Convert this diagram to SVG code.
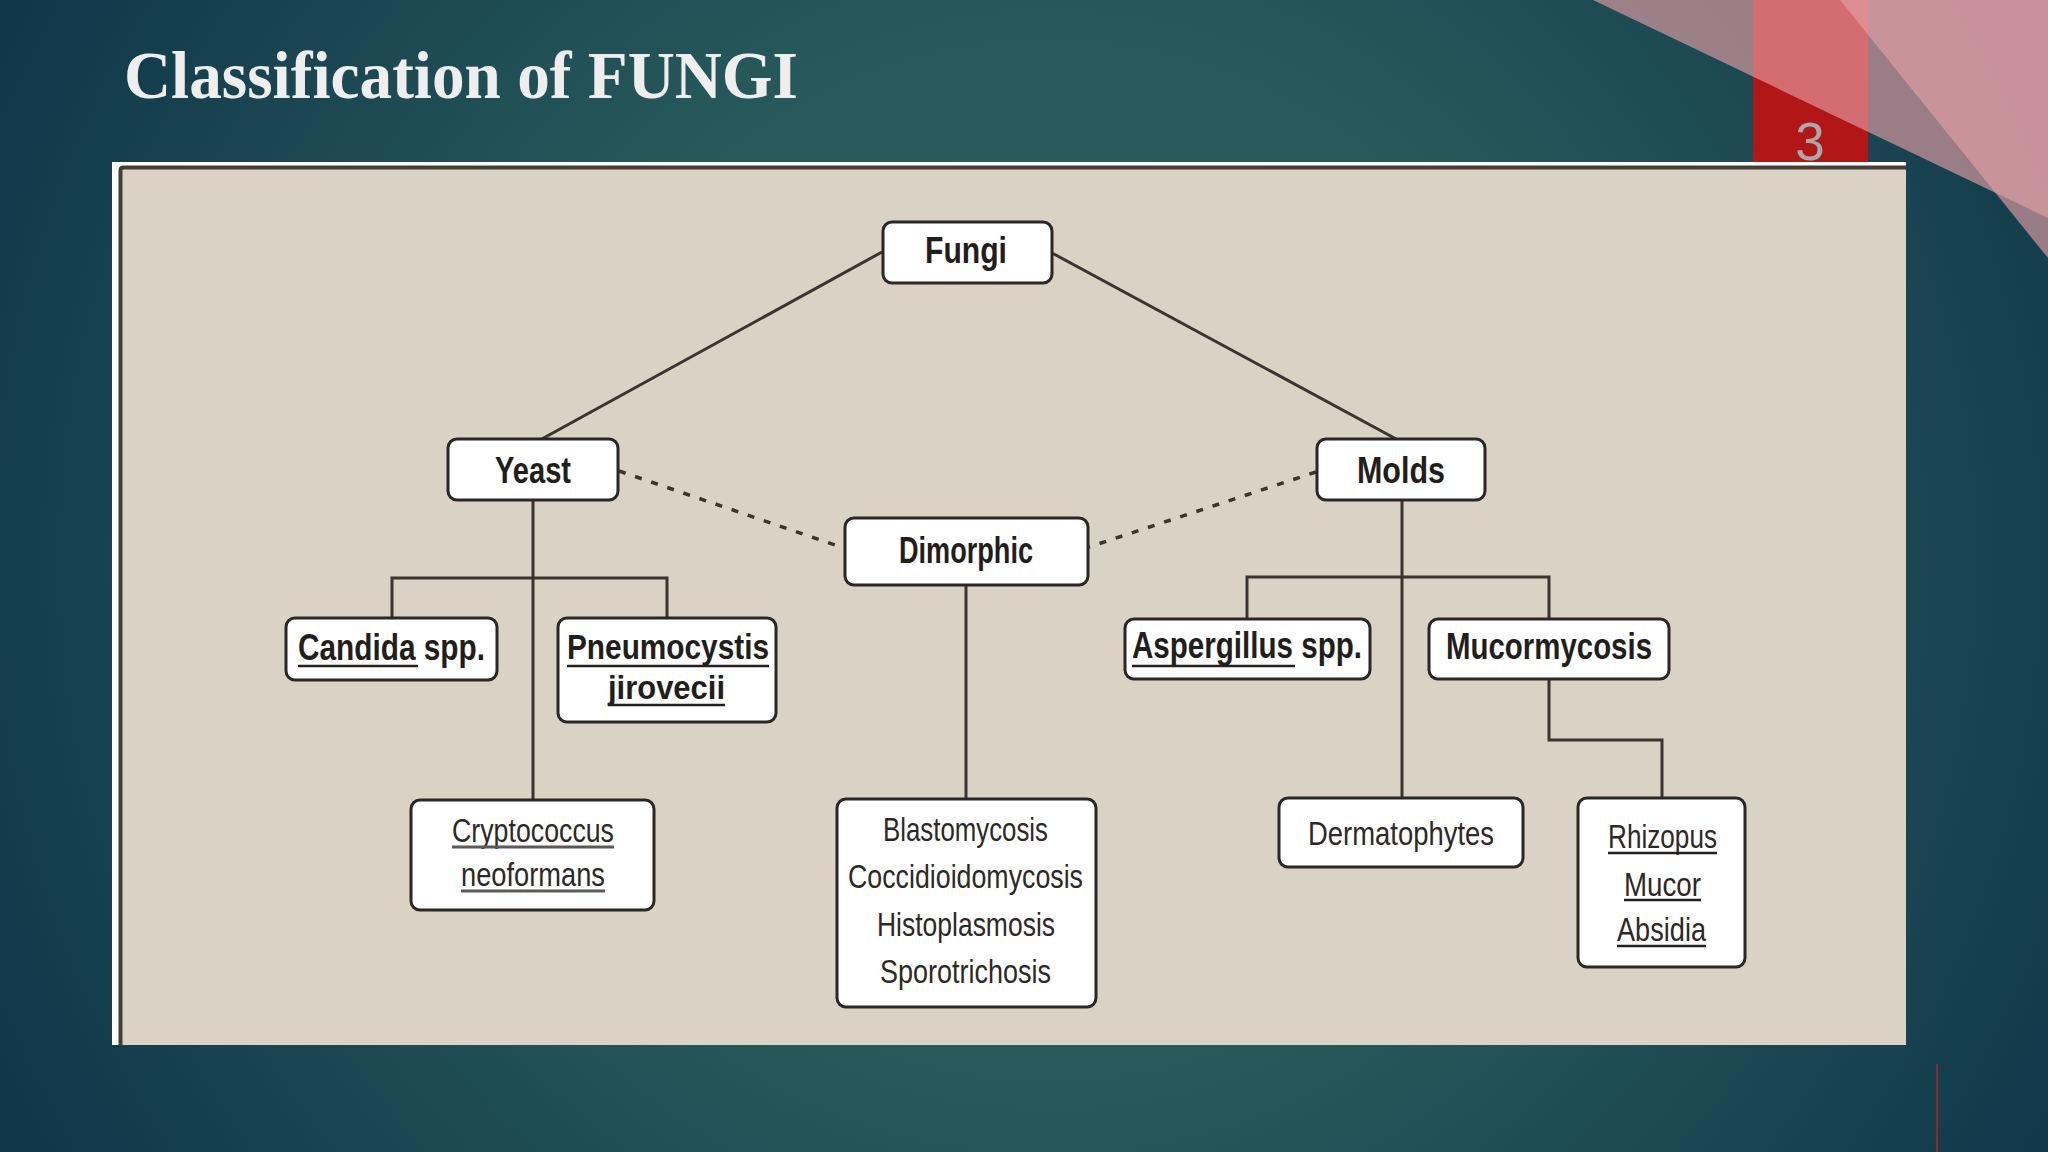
<svg xmlns="http://www.w3.org/2000/svg" width="2048" height="1152" viewBox="0 0 2048 1152">
<defs>
<radialGradient id="bg" gradientUnits="userSpaceOnUse" cx="1050" cy="560" r="1180">
<stop offset="0" stop-color="#2f6360"/>
<stop offset="0.45" stop-color="#27595a"/>
<stop offset="1" stop-color="#10364a"/>
</radialGradient>
<style>
.box{fill:#ffffff;stroke:#2b2724;stroke-width:3}
.b{font-family:"Liberation Sans Narrow","Liberation Sans",Arial,sans-serif;font-weight:bold;font-size:36px;fill:#211e1b}
.r{font-family:"Liberation Sans Narrow","Liberation Sans",Arial,sans-serif;font-size:34px;fill:#2c2927}
.ul{stroke:#24201d;stroke-width:2.5}
.ulg{stroke:#5c5a58;stroke-width:3}
.ln{fill:none;stroke:#3b3530;stroke-width:3}
.dl{fill:none;stroke:#3b3530;stroke-width:3.5;stroke-dasharray:7 10}
</style>
</defs>
<rect x="0" y="0" width="2048" height="1152" fill="url(#bg)"/>
<rect x="1753" y="0" width="115" height="165" fill="#b31616"/>
<polygon points="1593,0 2048,0 2048,218" fill="#e4a0a6" fill-opacity="0.64"/>
<polygon points="1840,0 2048,0 2048,258" fill="#e4a0a6" fill-opacity="0.64"/>
<text x="1810" y="160" text-anchor="middle" font-family="Liberation Sans, Arial, sans-serif" font-size="53" fill="#a9a9ab">3</text>
<line x1="1937" y1="1064" x2="1937" y2="1152" stroke="#8e2633" stroke-width="2"/>
<text x="124" y="98" font-family="Liberation Serif, Times New Roman, serif" font-weight="bold" font-size="68" fill="#eeeeee" textLength="674" lengthAdjust="spacingAndGlyphs">Classification of FUNGI</text>
<g id="figure">
<rect x="112" y="162" width="1794" height="883" fill="#ffffff"/>
<rect x="120" y="166" width="1786" height="879" fill="#dbd2c6"/>
<path d="M120.5,1045 V170 Q120.5,167.5 124,167.5 H1906" fill="none" stroke="#463e36" stroke-width="4"/>
</g>
<g id="connectors">
<line class="ln" x1="882" y1="252" x2="540" y2="440"/>
<line class="ln" x1="1052" y1="253" x2="1398" y2="440"/>
<line class="dl" x1="619" y1="471" x2="844" y2="548"/>
<line class="dl" x1="1316" y1="472" x2="1089" y2="547"/>
<line class="ln" x1="533" y1="500" x2="533" y2="800"/>
<polyline class="ln" points="392,618 392,578 667,578 667,618"/>
<line class="ln" x1="966" y1="585" x2="966" y2="799"/>
<line class="ln" x1="1402" y1="500" x2="1402" y2="798"/>
<polyline class="ln" points="1247,619 1247,577 1549,577 1549,619"/>
<polyline class="ln" points="1549,679 1549,740 1662,740 1662,798"/>
</g>
<g id="fungi">
<rect class="box" x="883" y="222" width="169" height="61" rx="9"/>
<text class="b" x="925" y="263" textLength="82" lengthAdjust="spacingAndGlyphs">Fungi</text>
</g>
<g id="yeast">
<rect class="box" x="448" y="439" width="170" height="61" rx="9"/>
<text class="b" x="495" y="483" textLength="76" lengthAdjust="spacingAndGlyphs">Yeast</text>
</g>
<g id="molds">
<rect class="box" x="1317" y="439" width="168" height="61" rx="9"/>
<text class="b" x="1357" y="483" textLength="88" lengthAdjust="spacingAndGlyphs">Molds</text>
</g>
<g id="dimorphic">
<rect class="box" x="845" y="518" width="243" height="67" rx="9"/>
<text class="b" x="899" y="563" textLength="134" lengthAdjust="spacingAndGlyphs">Dimorphic</text>
</g>
<g id="candida">
<rect class="box" x="286" y="618" width="211" height="62" rx="9"/>
<text class="b" x="298" y="660" textLength="187" lengthAdjust="spacingAndGlyphs">Candida spp.</text>
<line class="ul" x1="298" y1="666" x2="418" y2="666"/>
</g>
<g id="pneumocystis">
<rect class="box" x="558" y="618" width="218" height="104" rx="9"/>
<text class="b" x="567" y="659" font-size="35" textLength="202" lengthAdjust="spacingAndGlyphs" style="font-size:35px">Pneumocystis</text>
<line class="ul" x1="567" y1="666" x2="769" y2="666"/>
<text class="b" x="608" y="699" textLength="117" lengthAdjust="spacingAndGlyphs" style="font-size:34px">jirovecii</text>
<line class="ul" x1="608" y1="705" x2="725" y2="705"/>
</g>
<g id="aspergillus">
<rect class="box" x="1125" y="619" width="245" height="60" rx="9"/>
<text class="b" x="1132" y="658" textLength="230" lengthAdjust="spacingAndGlyphs">Aspergillus spp.</text>
<line class="ul" x1="1132" y1="666" x2="1295" y2="666"/>
</g>
<g id="mucormycosis">
<rect class="box" x="1429" y="619" width="240" height="60" rx="9"/>
<text class="b" x="1446" y="659" textLength="206" lengthAdjust="spacingAndGlyphs">Mucormycosis</text>
</g>
<g id="cryptococcus">
<rect class="box" x="411" y="800" width="243" height="110" rx="9"/>
<text class="r" x="452" y="842" textLength="162" lengthAdjust="spacingAndGlyphs">Cryptococcus</text>
<line class="ulg" x1="452" y1="847" x2="614" y2="847"/>
<text class="r" x="461" y="886" textLength="144" lengthAdjust="spacingAndGlyphs">neoformans</text>
<line class="ulg" x1="461" y1="891" x2="605" y2="891"/>
</g>
<g id="dimorphic-list">
<rect class="box" x="837" y="799" width="259" height="208" rx="9"/>
<text class="r" x="883" y="841" textLength="165" lengthAdjust="spacingAndGlyphs">Blastomycosis</text>
<text class="r" x="848" y="888" textLength="235" lengthAdjust="spacingAndGlyphs">Coccidioidomycosis</text>
<text class="r" x="877" y="936" textLength="178" lengthAdjust="spacingAndGlyphs">Histoplasmosis</text>
<text class="r" x="880" y="983" textLength="171" lengthAdjust="spacingAndGlyphs">Sporotrichosis</text>
</g>
<g id="dermatophytes">
<rect class="box" x="1279" y="798" width="244" height="69" rx="9"/>
<text class="r" x="1308" y="845" textLength="186" lengthAdjust="spacingAndGlyphs">Dermatophytes</text>
</g>
<g id="rhizopus">
<rect class="box" x="1578" y="798" width="167" height="169" rx="9"/>
<text class="r" x="1608" y="848" textLength="109" lengthAdjust="spacingAndGlyphs">Rhizopus</text>
<line class="ul" x1="1608" y1="853" x2="1717" y2="853"/>
<text class="r" x="1624" y="896" textLength="77" lengthAdjust="spacingAndGlyphs">Mucor</text>
<line class="ul" x1="1624" y1="900" x2="1701" y2="900"/>
<text class="r" x="1617" y="941" textLength="89" lengthAdjust="spacingAndGlyphs">Absidia</text>
<line class="ul" x1="1617" y1="946" x2="1706" y2="946"/>
</g>
</svg>
